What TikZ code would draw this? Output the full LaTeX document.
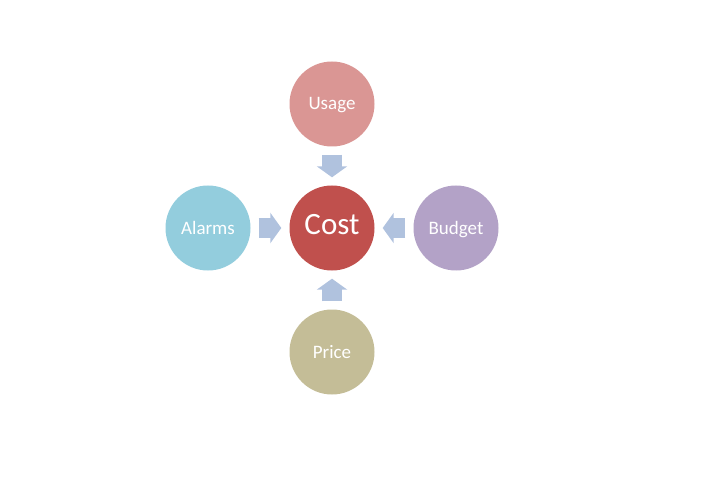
\documentclass[tikz,border=0pt]{standalone}
\usepackage{fontspec}
\setmainfont{Carlito}
\usetikzlibrary{arrows.meta}

\definecolor{costred}{HTML}{C0504D}
\definecolor{usagepink}{HTML}{DA9694}
\definecolor{budgetlilac}{HTML}{B3A2C7}
\definecolor{pricekhaki}{HTML}{C4BD97}
\definecolor{alarmsblue}{HTML}{93CDDD}
\definecolor{arrowblue}{HTML}{B0C2DE}

\tikzset{
	bubble/.style={circle, minimum size=85pt, inner sep=0pt, text=white,
		text height=12pt, text depth=0pt, font=\fontsize{19}{22}\selectfont},
	feed/.style={arrowblue, line width=20pt, line cap=butt, shorten <=8pt, shorten >=8pt,
		-{Triangle[length=11pt, width=30pt]}},
}

\begin{document}
\begin{tikzpicture}[x=1pt, y=1pt]
	%% Page
	\useasboundingbox (0,0) rectangle (706,477);

	%% Centre
	\node [bubble, fill=costred, text height=14pt, font=\fontsize{31}{36}\selectfont] (cost) at (332,249) {Cost};

	%% Outer circles
	\node [bubble, fill=usagepink] (usage) at (332,373) {Usage};
	\node [bubble, fill=budgetlilac] (budget) at (456,249) {Budget};
	\node [bubble, fill=pricekhaki] (price) at (332,125) {Price};
	\node [bubble, fill=alarmsblue] (alarms) at (208,249) {Alarms};

	%% Block arrows into the centre
	\draw [feed] (usage) -- (cost);
	\draw [feed] (budget) -- (cost);
	\draw [feed] (price) -- (cost);
	\draw [feed] (alarms) -- (cost);
\end{tikzpicture}
\end{document}
